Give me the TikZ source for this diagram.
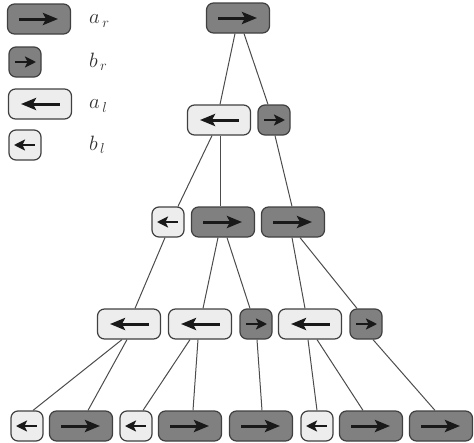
\documentclass[tikz,border=0pt]{standalone}
\usetikzlibrary{arrows.meta}
\begin{document}
\begin{tikzpicture}[x=1pt,y=-1pt,
  box/.style={rounded corners=7pt, draw=black!75, line width=1.2pt, minimum height=30pt, inner sep=0pt},
  longarrowR/.style={draw=black!90, line width=3pt, -{Stealth[length=15pt,width=12pt,inset=3pt]}},
  longarrowL/.style={draw=black!90, line width=3pt, {Stealth[length=15pt,width=12pt,inset=3pt]}-},
  shortarrowR/.style={draw=black!90, line width=2.6pt, -{Stealth[length=11pt,width=11pt,inset=2.5pt]}},
  shortarrowL/.style={draw=black!90, line width=2.6pt, {Stealth[length=11pt,width=11pt,inset=2.5pt]}-},
  ar/.style={box, fill=black!50, minimum width=63pt},
  al/.style={box, fill=black!7, minimum width=63pt},
  br/.style={box, fill=black!50, minimum width=32pt},
  bl/.style={box, fill=black!7, minimum width=32pt},
  edge/.style={draw=black!70, line width=1pt},
  lab/.style={font=\fontsize{22}{24}\selectfont, text=black!80, anchor=west, inner sep=0pt}
]
\useasboundingbox (0,0) rectangle (474,442);
% legend
\node[ar] (lar) at (39,19) {};
\node[br] (lbr) at (25,62) {};
\node[al] (lal) at (40,104) {};
\node[bl] (lbl) at (25,145) {};
\node[lab] (tar) at (89,21) {$a_{\,r}$};
\node[lab] (tbr) at (89,62) {$b_{\,r}$};
\node[lab] (tal) at (89,106) {$a_{\,l}$};
\node[lab] (tbl) at (89,145) {$b_{\,l}$};
% tree
\node[ar] (r) at (238,18) {};
\node[al] (l1a) at (219,120) {};
\node[br] (l1b) at (274,120) {};
\node[bl] (l2a) at (168,222) {};
\node[ar] (l2b) at (223,222) {};
\node[ar] (l2c) at (293,222) {};
\node[al] (l3a) at (129,324) {};
\node[al] (l3b) at (200,324) {};
\node[br] (l3c) at (256,324) {};
\node[al] (l3d) at (310,324) {};
\node[br] (l3e) at (366,324) {};
\node[bl] (l4a) at (27,426) {};
\node[ar] (l4b) at (81,426) {};
\node[bl] (l4c) at (136,426) {};
\node[ar] (l4d) at (190,426) {};
\node[ar] (l4e) at (261,426) {};
\node[bl] (l4f) at (317,426) {};
\node[ar] (l4g) at (371,426) {};
\node[ar] (l4h) at (441,426) {};
% arrows inside the boxes
\foreach \n in {lar,r,l2b,l2c,l4b,l4d,l4e,l4g,l4h}
  \draw[longarrowR] ([xshift=-20pt]\n.center) -- ([xshift=19pt]\n.center);
\foreach \n in {lal,l1a,l3a,l3b,l3d}
  \draw[longarrowL] ([xshift=-19pt]\n.center) -- ([xshift=20pt]\n.center);
\foreach \n in {lbr,l1b,l3c,l3e}
  \draw[shortarrowR] ([xshift=-10pt]\n.center) -- ([xshift=11pt]\n.center);
\foreach \n in {lbl,l2a,l4a,l4c,l4f}
  \draw[shortarrowL] ([xshift=-11pt]\n.center) -- ([xshift=10pt]\n.center);
% edges
\draw[edge] ([xshift=-3pt]r.south) -- ([xshift=1pt]l1a.north);
\draw[edge] ([xshift=6pt]r.south) -- ([xshift=-6pt]l1b.north);
\draw[edge] ([xshift=-7pt]l1a.south) -- ([xshift=10pt]l2a.north);
\draw[edge] ([xshift=1pt]l1a.south) -- ([xshift=-3pt]l2b.north);
\draw[edge] ([xshift=1pt]l1b.south) -- ([xshift=-1pt]l2c.north);
\draw[edge] ([xshift=-3pt]l2a.south) -- ([xshift=6pt]l3a.north);
\draw[edge] ([xshift=-5pt]l2b.south) -- ([xshift=3pt]l3b.north);
\draw[edge] ([xshift=4pt]l2b.south) -- ([xshift=-6pt]l3c.north);
\draw[edge] ([xshift=-1pt]l2c.south) -- ([xshift=-5pt]l3d.north);
\draw[edge] ([xshift=7pt]l2c.south) -- ([xshift=-9pt]l3e.north);
\draw[edge] ([xshift=-7pt]l3a.south) -- ([xshift=6pt]l4a.north);
\draw[edge] ([xshift=-2pt]l3a.south) -- ([xshift=7pt]l4b.north);
\draw[edge] ([xshift=-10pt]l3b.south) -- ([xshift=7pt]l4c.north);
\draw[edge] ([xshift=-2pt]l3b.south) -- ([xshift=3pt]l4d.north);
\draw[edge] ([xshift=1pt]l3c.south) -- ([xshift=1pt]l4e.north);
\draw[edge] ([xshift=-2pt]l3d.south) -- (l4f.north);
\draw[edge] ([xshift=7pt]l3d.south) -- ([xshift=-8pt]l4g.north);
\draw[edge] ([xshift=7pt]l3e.south) -- ([xshift=-6pt]l4h.north);
\end{tikzpicture}
\end{document}
